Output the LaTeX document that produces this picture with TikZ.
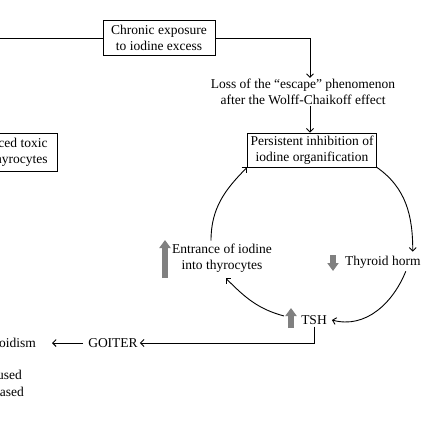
\documentclass[tikz,border=0pt]{standalone}
\usepackage{fontspec}
\setmainfont{Liberation Serif}
\usetikzlibrary{arrows.meta}
\begin{document}
\begin{tikzpicture}[x=1pt,y=1pt,
  every node/.style={font=\fontsize{13.5}{16}\selectfont, inner sep=2pt},
  box/.style={draw, line width=0.9pt, align=center, inner xsep=3pt},
  lbl/.style={align=center},
  conn/.style={line width=0.9pt, -{Straight Barb[length=3.5pt,width=7pt]}},
  plain/.style={line width=0.9pt},
  graytip/.style={line width=5.5pt, draw=black!50, -{Triangle[width=11pt,length=8pt]}}
]
\useasboundingbox (0,-421) rectangle (421,0);
\fill[white] (0,-421) rectangle (421,0);
\clip (0,-421) rectangle (421,0);

\node[box, minimum width=112pt, minimum height=35pt] (A) at (159,-38) {Chronic exposure\\to iodine excess};
\node[lbl, inner sep=1pt] (loss) at (303,-92) {Loss of the ``escape'' phenomenon\\after the Wolff-Chaikoff effect};
\node[box, minimum width=128pt, minimum height=34pt] (P) at (312,-150) {Persistent inhibition of\\iodine organification};
\node[box, align=right, anchor=east, inner xsep=10pt, minimum height=38pt] (L) at (58,-152) {ced toxic\\thyrocytes};
\node[lbl] (ent) at (222,-258) {Entrance of iodine\\into thyrocytes};
\node[anchor=west] (thy) at (343,-262) {Thyroid horm};
\node (tsh) at (314,-320) {TSH};
\node (goiter) at (113,-343) {GOITER};
\node[anchor=east] (hypo) at (38,-343) {oidism};
\node[anchor=east] (inc) at (24,-375) {used};
\node[anchor=east] (dec) at (26,-392) {ased};

\coordinate (lstart) at (0,-38);
\draw[plain] (lstart) -- (A.west);
\draw[conn] (A.east) -| ([xshift=-2pt]P.north |- loss.north);
\draw[conn] ([xshift=-2pt]P.north |- loss.south) -- ([xshift=-2pt]P.north);

\draw[conn] (P.south east) to[out=-35,in=90] ([xshift=-10pt,yshift=2pt]thy.north east);
\draw[conn] ([xshift=-17pt,yshift=-1pt]thy.south east) to[out=-112,in=-15] ([xshift=3pt]tsh.east);
\draw[conn] ([xshift=-15pt,yshift=4pt]tsh.west) to[out=165,in=-45] ([xshift=4pt,yshift=-4pt]ent.south);
\draw[conn] ([xshift=-11pt,yshift=1pt]ent.north) to[out=90,in=-135] (P.south west);

\draw[conn] (tsh.south) |- (goiter.east);
\draw[conn, shorten >=14pt] ([xshift=-3pt]goiter.west) -- (hypo.east);

\draw[graytip] (165,-278) -- (165,-240);
\draw[graytip] (291,-328) -- (291,-308);
\draw[graytip] (333,-255) -- (333,-271);
\end{tikzpicture}
\end{document}
